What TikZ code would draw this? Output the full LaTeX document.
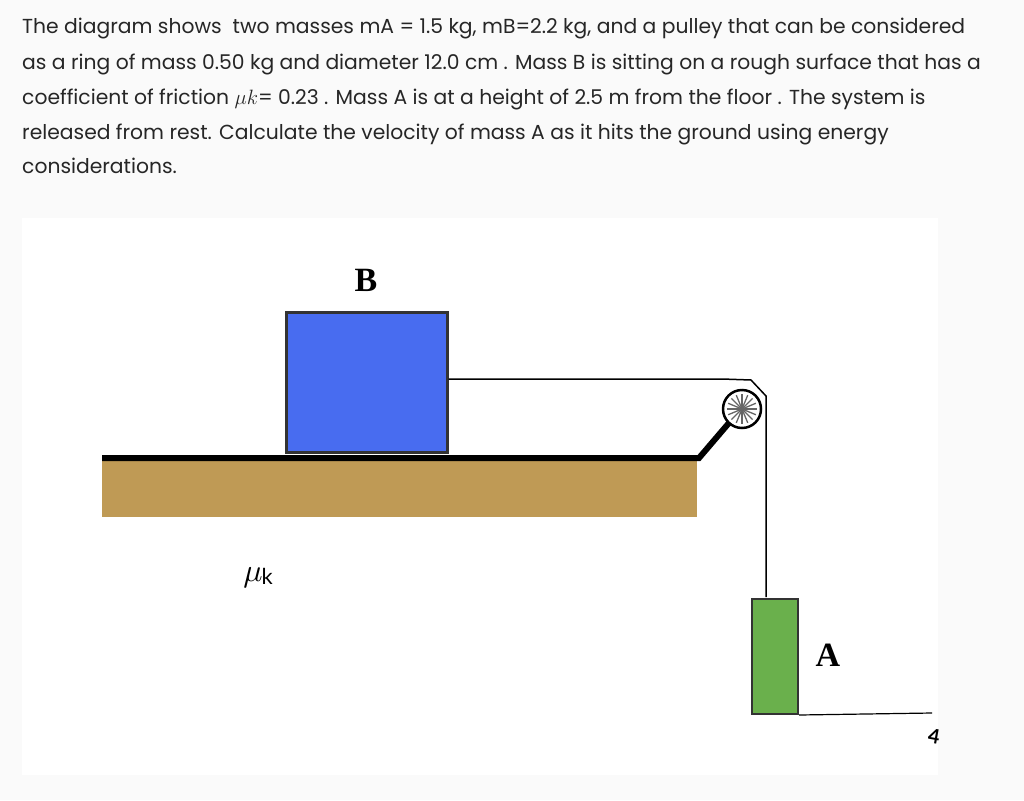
\documentclass[tikz,border=0pt]{standalone}
\usepackage{fontspec}
\setmainfont{Poppins}
\newfontfamily\serifb{Liberation Serif}
\newfontfamily\lato{Lato}
\begin{document}
\begin{tikzpicture}[x=1pt,y=-1pt,
  para/.style={anchor=base west,inner sep=0pt,font=\fontsize{20.3}{22}\selectfont,text=black!85},
  lbl/.style={font=\serifb\bfseries\fontsize{34}{34}\selectfont}]
\fill[black!2] (0,0) rectangle (1024,800);
\useasboundingbox (0,0) rectangle (1024,800);
\fill[white] (22,218) rectangle (938,775);
\node[para] (l1) at (22,34) {The diagram shows\ \ two masses mA = 1.5 kg, mB=2.2 kg, and a pulley that can be considered};
\node[para] (l2) at (22,69) {as a ring of mass 0.50 kg and diameter 12.0 cm . Mass B is sitting on a rough surface that has a};
\node[para] (l3) at (22,104) {coefficient of friction $\mu k$= 0.23 . Mass A is at a height of 2.5 m from the floor . The system is};
\node[para] (l4) at (22,139) {released from rest. Calculate the velocity of mass A as it hits the ground using energy};
\node[para] (l5) at (22,173) {considerations.};
% table
\fill[fill={rgb,255:red,191;green,154;blue,85}] (102,461) rectangle (697,517);
\draw[line width=6pt] (102,458) -- (699,458) -- (740,410);
% block B
\node[draw=black!80,line width=2.5pt,fill={rgb,255:red,72;green,108;blue,240},minimum width=161,minimum height=140,inner sep=0,anchor=north west] (B) at (285,311) {};
\node[lbl] (Bl) at (366,280) {B};
% pulley
\coordinate (pc) at (742,409);
\draw[line width=2.5pt,fill=white] (pc) circle (19);
\foreach \a in {0,22.5,...,337.5} \draw[black!60,line width=1.3pt] (pc) -- ++(\a:15);
% rope
\draw[line width=1.5pt] (B.east |- 0,379) -- (722,379) -- (751,380) -- (766,396) -- (766,597);
% block A
\node[draw=black!80,line width=2pt,fill={rgb,255:red,106;green,176;blue,76},minimum width=46,minimum height=115,inner sep=0,anchor=north west] (A) at (751,598) {};
\node[lbl] (Al) at (828,655) {A};
\draw[line width=1.2pt] (A.south east) -- (932,713);
\node[font=\lato\bfseries\fontsize{20}{20}\selectfont,rotate=-10] (four) at (934,736) {4};
% mu_k
\node (mu) at (258,578) {\scalebox{3.2}{$\mu$}\kern-1pt\raisebox{-3pt}{\lato\fontsize{22}{22}\selectfont k}};
\end{tikzpicture}
\end{document}
